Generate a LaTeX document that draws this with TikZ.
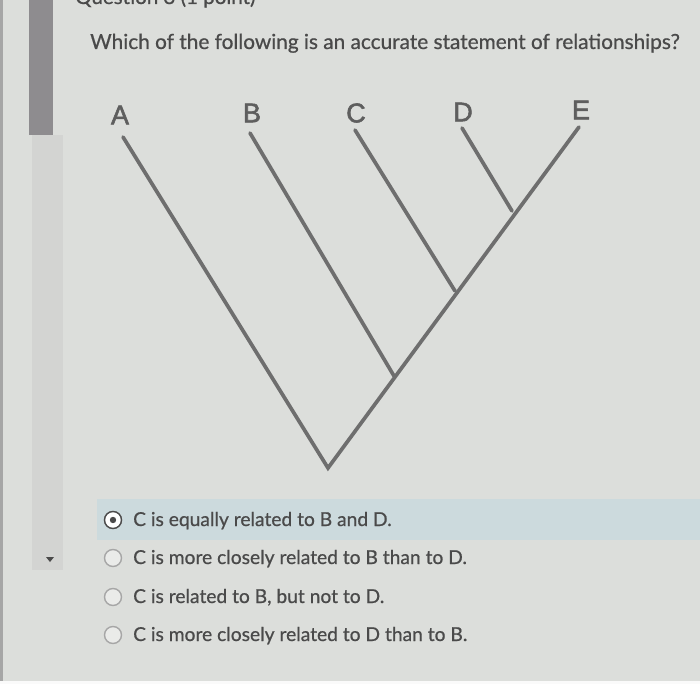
\documentclass[tikz,border=0pt]{standalone}
\usepackage{fontspec}
\setmainfont[FakeBold=0.7]{Lato}
\newfontfamily\taxonfont[FakeBold=2]{Liberation Sans}
\usetikzlibrary{positioning}

\definecolor{screen}{HTML}{DCDEDB}
\definecolor{ink}{HTML}{4A4A4A}
\definecolor{branchgray}{HTML}{6E6E6E}
\definecolor{picked}{HTML}{CCDADD}
\definecolor{thumb}{HTML}{8E8C8F}
\definecolor{track}{HTML}{D3D4D2}

\tikzset{
  branch/.style={draw=branchgray, line width=3.7pt, line cap=round, line join=miter},
  taxon/.style={font=\taxonfont\fontsize{27}{27}\selectfont, text=branchgray!85!black, inner sep=0pt},
  choice/.style={font=\fontsize{19.2}{20}\selectfont, text=ink, inner sep=0pt, anchor=base west},
  radio/.style={circle, draw=gray!70, line width=1.4pt, fill=screen!60!white, minimum size=17pt, inner sep=0pt}
}

\begin{document}
\begin{tikzpicture}[x=1pt, y=-1pt]
  \useasboundingbox (0,0) rectangle (700,684);
  \fill[screen] (0,0) rectangle (700,684);
  % scroll bar at the left
  \fill[gray!70] (0,0) rectangle (3,684);
  \fill[track] (32,135) rectangle (63,570);
  \fill[thumb] (29,0) rectangle (53,135);
  \fill[ink] (46,557) -- (54,557) -- (50,562) -- cycle;
  \fill[white!85!screen] (0,681) rectangle (700,684);

  % header and question
  \node[font=\fontsize{20.5}{22}\selectfont, text=ink, anchor=base west, inner sep=0pt] (head) at (75,4) {Question 3 (1 point)};
  \node[font=\fontsize{20.8}{22}\selectfont, text=ink, anchor=base west, inner sep=0pt] (question) at (90,49)
    {Which of the following is an accurate statement of relationships?};

  % tree
  \coordinate (root) at (328,468);
  \coordinate (jb) at (394,376);
  \coordinate (jc) at (455,291);
  \coordinate (jd) at (512,211);
  \coordinate (ta) at (123,137);
  \coordinate (tb) at (250,133);
  \coordinate (tc) at (355,130);
  \coordinate (td) at (462,128);
  \coordinate (te) at (579,127);
  \node[taxon] (A) at (120,115) {A};
  \node[taxon] (B) at (252,113) {B};
  \node[taxon] (C) at (356,113) {C};
  \node[taxon] (D) at (463,112) {D};
  \node[taxon] (E) at (581,110) {E};
  \draw[branch] (ta) -- (root) -- (te);
  \draw[branch] (tb) -- (jb);
  \draw[branch] (tc) -- (jc);
  \draw[branch] (td) -- (jd);

  % answers
  \fill[picked] (97,499) rectangle (700,540);
  \foreach \y/\txt [count=\i] in {520/{C is equally related to B and D.},
                                  558/{C is more closely related to B than to D.},
                                  597/{C is related to B, but not to D.},
                                  635/{C is more closely related to D than to B.}} {
    \node[radio] (r\i) at (113,\y) {};
    \node[choice] (o\i) at (133,\y+6) {\txt};
  }
  \draw[ink, line width=1.4pt, fill=white] (r1) circle (8.5pt);
  \fill[ink] (r1) circle (3.2pt);
\end{tikzpicture}
\end{document}
